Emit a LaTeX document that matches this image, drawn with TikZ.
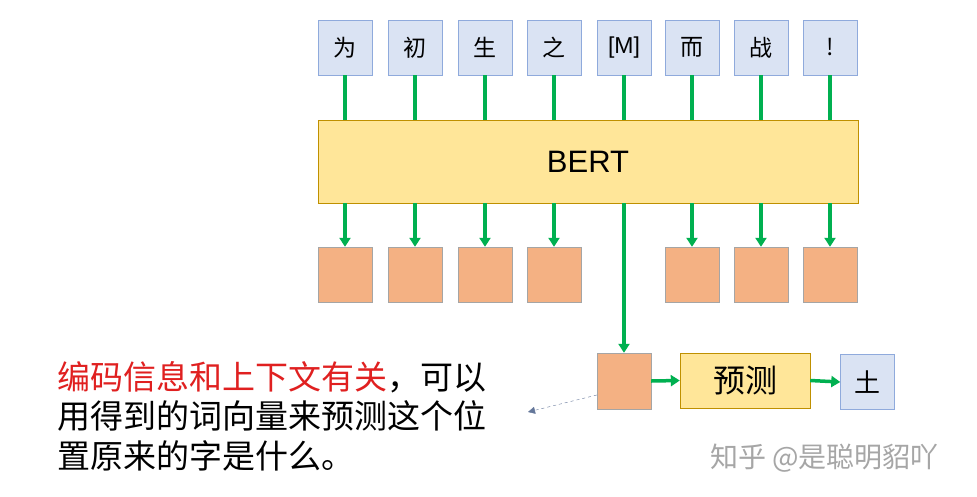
\documentclass[tikz,border=0pt]{standalone}
\usepackage{fontspec}
\setmainfont{Liberation Sans}
\newfontfamily\cjk{Noto Sans CJK SC}
\usetikzlibrary{arrows.meta}
\definecolor{tokfill}{HTML}{DAE3F3}
\definecolor{tokdraw}{HTML}{8FAADC}
\definecolor{yfill}{HTML}{FFE699}
\definecolor{ydraw}{HTML}{BF9000}
\definecolor{ofill}{HTML}{F4B183}
\definecolor{odraw}{HTML}{A5A5A5}
\definecolor{gline}{HTML}{00B050}
\definecolor{txtred}{HTML}{E02020}
\tikzset{
 tok/.style={draw=tokdraw,fill=tokfill,minimum width=54pt,minimum height=55pt,inner sep=0pt,font=\cjk\fontsize{23}{23}\selectfont},
 outb/.style={draw=odraw,fill=ofill,minimum width=54pt,minimum height=55pt,inner sep=0pt},
 ybox/.style={draw=ydraw,fill=yfill,inner sep=0pt},
 gl/.style={draw=gline,line width=3.5pt},
 ga/.style={gl,-{Triangle[length=9pt,width=11pt]}},
 desc/.style={anchor=west,font=\cjk\fontsize{33}{33}\selectfont,inner sep=0pt},
}
\begin{document}
\begin{tikzpicture}[x=1pt,y=-1pt]
\useasboundingbox[fill=white] (0,0) rectangle (977,496);
\node[ybox,minimum width=540pt,minimum height=83pt,font=\fontsize{31}{31}\selectfont] (bert) at (588,161.5) {BERT};
\foreach \i/\x/\t in {1/345/为,2/415/初,3/485/生,4/554/之,5/624/{\rmfamily[M]},6/692/而,7/761/战,8/830/!}{
  \node[tok] (t\i) at (\x,47.5) {\t};
  \draw[gl] (t\i.south) -- (t\i.south |- bert.north);
}
\foreach \i/\x in {1/345,2/415,3/485,4/554,6/692,7/761,8/830}{
  \node[outb] (o\i) at (\x,274.5) {};
  \draw[ga] (bert.south -| o\i) -- (o\i.north);
}
\node[outb,minimum height=56pt] (m) at (624,381) {};
\draw[ga] (bert.south -| m) -- (m.north);
\node[ybox,minimum width=130pt,minimum height=55pt,font=\cjk\fontsize{32}{32}\selectfont] (pred) at (745,380.5) {预测};
\node[tok,font=\cjk\fontsize{26}{26}\selectfont] (ans) at (867.5,382) {土};
\draw[ga] (m.east) -- (pred.west);
\draw[ga] (pred.east) -- (ans.west);
\coordinate (dend) at (528,412);
\draw[draw=tokdraw!70!black,dashed,-{Triangle[length=7pt,width=7pt]}] (m.west|-0,395) -- (dend);
\node[desc] (l1) at (57,377) {\textcolor{txtred}{编码信息和上下文有关}，可以};
\node[desc] (l2) at (57,416) {用得到的词向量来预测这个位};
\node[desc] (l3) at (57,456) {置原来的字是什么。};
\node[anchor=west,font=\cjk\fontsize{28}{28}\selectfont,text=gray!70,inner sep=0pt] (wm) at (710,458) {知乎 @是聪明貂吖};
\end{tikzpicture}
\end{document}
